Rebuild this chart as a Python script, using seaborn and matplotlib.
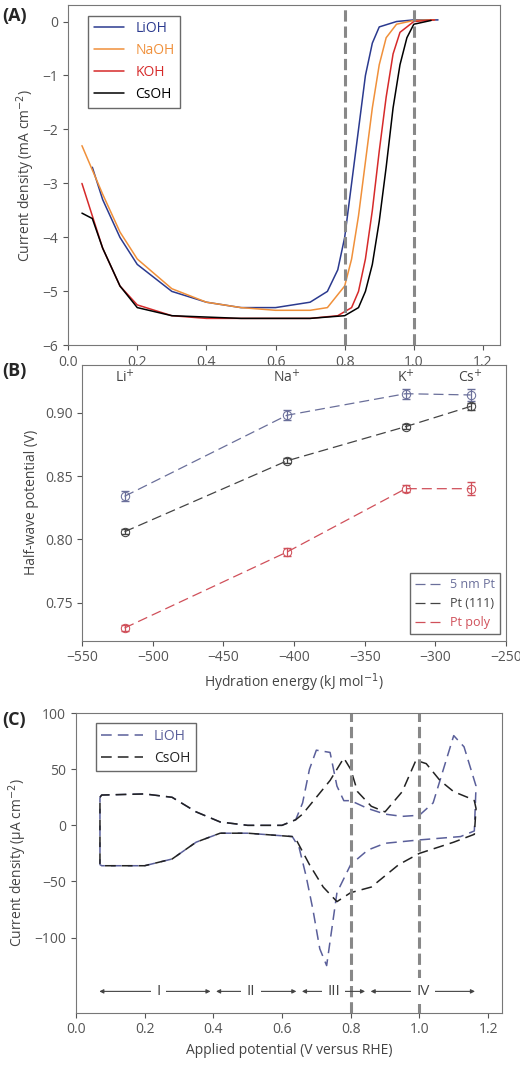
import numpy as np
import pandas as pd
import seaborn as sns
import matplotlib.pyplot as plt

sns.set_style("ticks")
plt.rcParams['font.family'] = ['Open Sans', 'DejaVu Sans']
plt.rcParams['axes.edgecolor'] = '#777777'
plt.rcParams['xtick.color'] = '#555555'
plt.rcParams['ytick.color'] = '#555555'

# Panel A: ORR polarisation curves
a_li_x = [0.07, 0.1, 0.15, 0.2, 0.3, 0.4, 0.5, 0.6, 0.7, 0.75, 0.78, 0.8, 0.82, 0.84, 0.86, 0.88, 0.9, 0.95, 1.0, 1.07]
a_li_y = [-2.7, -3.3, -4.0, -4.5, -5.0, -5.2, -5.3, -5.3, -5.2, -5.0, -4.6, -4.0, -3.0, -2.0, -1.0, -0.4, -0.1, 0.0, 0.03, 0.03]
a_na_x = [0.04, 0.1, 0.15, 0.2, 0.3, 0.4, 0.5, 0.6, 0.7, 0.75, 0.8, 0.82, 0.84, 0.86, 0.88, 0.9, 0.92, 0.95, 1.0, 1.06]
a_na_y = [-2.3, -3.2, -3.9, -4.4, -4.95, -5.2, -5.3, -5.35, -5.35, -5.3, -4.9, -4.4, -3.6, -2.6, -1.6, -0.8, -0.3, -0.05, 0.02, 0.03]
a_k_x = [0.04, 0.1, 0.15, 0.2, 0.3, 0.4, 0.5, 0.6, 0.7, 0.78, 0.82, 0.84, 0.86, 0.88, 0.9, 0.92, 0.94, 0.96, 1.0, 1.06]
a_k_y = [-3.0, -4.2, -4.9, -5.25, -5.45, -5.5, -5.5, -5.5, -5.5, -5.45, -5.3, -5.0, -4.4, -3.5, -2.4, -1.4, -0.6, -0.2, 0.0, 0.03]
a_cs_x = [0.04, 0.07, 0.1, 0.15, 0.2, 0.3, 0.5, 0.7, 0.8, 0.84, 0.86, 0.88, 0.9, 0.92, 0.94, 0.96, 0.98, 1.0, 1.05]
a_cs_y = [-3.55, -3.65, -4.2, -4.9, -5.3, -5.45, -5.5, -5.5, -5.45, -5.3, -5.0, -4.5, -3.7, -2.7, -1.6, -0.8, -0.3, -0.05, 0.02]

# Panel B: half-wave potentials
b_energy = [-520, -405, -321, -275]
b_cations = ['Li$^{+}$', 'Na$^{+}$', 'K$^{+}$', 'Cs$^{+}$']
b_pt5 = [0.834, 0.898, 0.915, 0.914]
b_pt5_err = [0.004, 0.004, 0.004, 0.005]
b_pt111 = [0.806, 0.862, 0.889, 0.905]
b_pt111_err = [0.002, 0.002, 0.002, 0.003]
b_poly = [0.730, 0.790, 0.840, 0.840]
b_poly_err = [0.002, 0.003, 0.003, 0.005]

# Panel C: cyclic voltammograms (anodic then cathodic sweep)
c_li_x = [0.07, 0.075, 0.2, 0.28, 0.35, 0.42, 0.5, 0.6, 0.64, 0.66, 0.68, 0.7, 0.74, 0.76, 0.78, 0.8, 0.85, 0.9, 0.95, 1.0,
          1.04, 1.07, 1.1, 1.13, 1.16, 1.165, 1.16, 1.12, 1.0, 0.9, 0.85, 0.8, 0.76, 0.73, 0.71, 0.69, 0.67, 0.65,
          0.63, 0.5, 0.42, 0.35, 0.28, 0.2, 0.075, 0.07, 0.07]
c_li_y = [25, 27, 28, 25, 12, 3, 0, 0, 5, 20, 50, 67, 65, 35, 22, 22, 15, 10, 8, 9,
          20, 50, 80, 70, 40, 35, -5, -10, -13, -16, -22, -35, -60, -125, -110, -75, -45, -20,
          -10, -7, -7, -15, -30, -36, -36, -35, 25]
c_cs_x = [0.07, 0.075, 0.2, 0.28, 0.35, 0.42, 0.5, 0.6, 0.64, 0.66, 0.7, 0.74, 0.78, 0.8, 0.82, 0.86, 0.9, 0.95, 0.99,
          1.02, 1.06, 1.1, 1.14, 1.16, 1.165, 1.16, 1.1, 1.0, 0.94, 0.86, 0.8, 0.76, 0.72, 0.68, 0.64,
          0.63, 0.5, 0.42, 0.35, 0.28, 0.2, 0.075, 0.07, 0.07]
c_cs_y = [25, 27, 28, 25, 12, 3, 0, 0, 5, 10, 25, 40, 60, 50, 30, 17, 12, 30, 58,
          55, 40, 30, 25, 22, 15, -8, -15, -25, -35, -55, -60, -68, -55, -35, -12,
          -10, -7, -7, -15, -30, -36, -36, -35, 25]
c_regions = ['I', 'II', 'III', 'IV']
c_region_bounds = [(0.06, 0.4), (0.4, 0.65), (0.65, 0.85), (0.85, 1.17)]
c_region_text_x = [0.24, 0.51, 0.75, 1.01]

fig = plt.figure(figsize=(5.2, 10.66), dpi=100)
axA = fig.add_axes([0.131, 0.676, 0.831, 0.319])
axB = fig.add_axes([0.158, 0.399, 0.815, 0.259])
axC = fig.add_axes([0.146, 0.050, 0.819, 0.281])

# ---- A
for xs, ys, lab, col in [(a_li_x, a_li_y, 'LiOH', '#2b3a8f'), (a_na_x, a_na_y, 'NaOH', '#f0903a'),
                         (a_k_x, a_k_y, 'KOH', '#d62a2a'), (a_cs_x, a_cs_y, 'CsOH', 'black')]:
    sns.lineplot(x=xs, y=ys, ax=axA, label=lab, color=col, lw=1.1, sort=False, estimator=None)
for v in [0.8, 1.0]:
    axA.axvline(v, color='#888888', ls='--', lw=2.2)
axA.set_xlim(0, 1.25)
axA.set_ylim(-6, 0.3)
axA.set_xticks(np.arange(0, 1.3, 0.2))
axA.set_yticks(range(-6, 1))
axA.set_xlabel('Applied potential (V versus RHE)', color='#444444')
axA.set_ylabel('Current density (mA cm$^{-2}$)', color='#444444')
axA.legend(loc='upper left', bbox_to_anchor=(0.03, 0.99), frameon=True, fancybox=False,
           edgecolor='#444444', handlelength=2.2, fontsize=10)
for t, c in zip(axA.get_legend().get_texts(), ['#2b3a8f', '#f0903a', '#d62a2a', 'black']):
    t.set_color(c)

# ---- B
for ys, es, lab, col in [(b_pt5, b_pt5_err, '5 nm Pt', '#6a6f9a'), (b_pt111, b_pt111_err, 'Pt (111)', '#444444'),
                         (b_poly, b_poly_err, 'Pt poly', '#d0505a')]:
    sns.lineplot(x=b_energy, y=ys, ax=axB, label=lab, color=col, lw=0.9, marker='o', estimator=None,
                 markerfacecolor='none', markeredgecolor=col, markersize=6)
    axB.lines[-1].set_dashes((8, 4))
    axB.errorbar(b_energy, ys, yerr=es, fmt='none', ecolor=col, capsize=3, lw=0.9)
for x, lab in zip(b_energy, b_cations):
    axB.text(x, 0.928, lab, ha='center', va='center', fontsize=10, color='#444444')
axB.set_xlim(-550, -250)
axB.set_ylim(0.72, 0.938)
axB.set_yticks([0.75, 0.80, 0.85, 0.90])
axB.set_xlabel('Hydration energy (kJ mol$^{-1}$)', color='#444444')
axB.set_ylabel('Half-wave potential (V)', color='#444444')
leg = axB.legend(loc='lower right', frameon=True, fancybox=False, edgecolor='#444444', fontsize=9)
for t, c in zip(leg.get_texts(), ['#6a6f9a', '#444444', '#d0505a']):
    t.set_color(c)
for h in leg.legend_handles:
    h.set_marker('')
    h.set_dashes((8, 4))

# ---- C
sns.lineplot(x=c_li_x, y=c_li_y, ax=axC, label='LiOH', color='#5a5f9a', lw=1.1, sort=False, estimator=None)
sns.lineplot(x=c_cs_x, y=c_cs_y, ax=axC, label='CsOH', color='#222222', lw=1.1, sort=False, estimator=None)
axC.lines[0].set_dashes((7, 4))
axC.lines[1].set_dashes((7, 4))
for v in [0.8, 1.0]:
    axC.axvline(v, color='#888888', ls='--', lw=2.2)
for lab, (x0, x1), tx in zip(c_regions, c_region_bounds, c_region_text_x):
    axC.annotate('', xy=(x0, -148), xytext=(x1, -148),
                 arrowprops=dict(arrowstyle='<|-|>', color='#444444', lw=0.8, mutation_scale=6))
    axC.text(tx, -148, lab, ha='center', va='center', fontsize=11, color='#444444',
             bbox=dict(facecolor='white', edgecolor='none', pad=4))
axC.set_xlim(0, 1.24)
axC.set_ylim(-167, 100)
axC.set_xticks(np.arange(0, 1.3, 0.2))
axC.set_yticks([-100, -50, 0, 50, 100])
axC.set_xlabel('Applied potential (V versus RHE)', color='#444444')
axC.set_ylabel('Current density (µA cm$^{-2}$)', color='#444444')
leg = axC.legend(loc='upper left', bbox_to_anchor=(0.03, 0.99), frameon=True, fancybox=False,
                 edgecolor='#444444', fontsize=10, handlelength=3)
for t, c in zip(leg.get_texts(), ['#5a5f9a', '#222222']):
    t.set_color(c)
for h in leg.legend_handles:
    h.set_dashes((7, 4))

for ax in (axA, axB, axC):
    for sp in ax.spines.values():
        sp.set_color('#777777')
    ax.tick_params(labelsize=10)

fig.text(0.005, 0.985, '(A)', fontsize=13, fontweight='bold', va='center')
fig.text(0.005, 0.652, '(B)', fontsize=13, fontweight='bold', va='center')
fig.text(0.005, 0.325, '(C)', fontsize=13, fontweight='bold', va='center')

fig.savefig('out.png', dpi=100)
